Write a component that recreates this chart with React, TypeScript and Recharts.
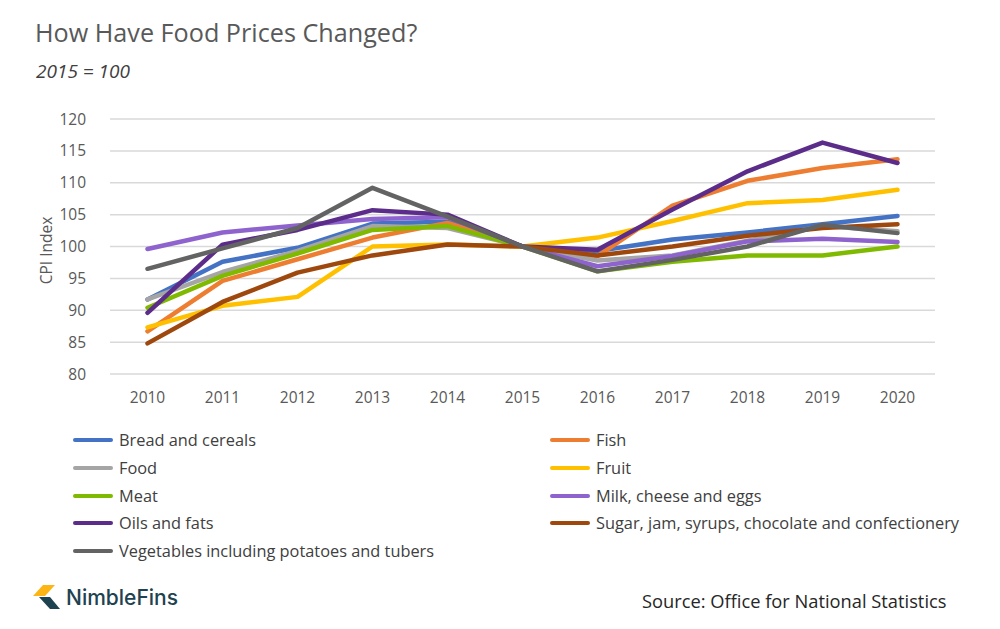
import React from "react";
import { LineChart, Line, CartesianGrid, XAxis, YAxis } from "recharts";

const years = ["2010", "2011", "2012", "2013", "2014", "2015", "2016", "2017", "2018", "2019", "2020"];
const yTicks = [80, 85, 90, 95, 100, 105, 110, 115, 120];

const bread = [91.7, 97.6, 99.8, 103.6, 103.9, 100, 99.3, 101.1, 102.2, 103.5, 104.8];
const fish = [86.7, 94.6, 98, 101.4, 103.7, 100, 98.5, 106.4, 110.3, 112.3, 113.7];
const food = [91.7, 96, 99.3, 103.2, 102.9, 100, 97.8, 98.6, 100.9, 103.2, 102.4];
const fruit = [87.3, 90.7, 92.1, 100, 100.3, 100, 101.4, 104, 106.8, 107.3, 108.9];
const meat = [90.4, 95.4, 98.9, 102.6, 103.2, 100, 96.1, 97.6, 98.6, 98.6, 100];
const milk = [99.6, 102.2, 103.3, 104.3, 104.6, 100, 96.9, 98.5, 100.8, 101.2, 100.7];
const oils = [89.6, 100.3, 102.6, 105.7, 105, 100, 99.5, 105.8, 111.8, 116.3, 113.1];
const sugar = [84.8, 91.3, 95.9, 98.6, 100.3, 100, 98.6, 100, 101.7, 102.9, 103.5];
const veg = [96.5, 99.7, 102.9, 109.2, 104.7, 100, 96.1, 97.9, 100, 103.4, 102.1];

const series = [
  { key: "bread", name: "Bread and cereals", color: "#4472C4", values: bread },
  { key: "fish", name: "Fish", color: "#ED7D31", values: fish },
  { key: "food", name: "Food", color: "#A5A5A5", values: food },
  { key: "fruit", name: "Fruit", color: "#FFC000", values: fruit },
  { key: "meat", name: "Meat", color: "#7FBA00", values: meat },
  { key: "milk", name: "Milk, cheese and eggs", color: "#8E63CE", values: milk },
  { key: "oils", name: "Oils and fats", color: "#5B2C8A", values: oils },
  { key: "sugar", name: "Sugar, jam, syrups, chocolate and confectionery", color: "#9E480E", values: sugar },
  { key: "veg", name: "Vegetables including potatoes and tubers", color: "#636363", values: veg },
];

const data = years.map((year, i) => {
  const row: Record<string, string | number> = { year };
  series.forEach((s) => {
    row[s.key] = s.values[i];
  });
  return row;
});

const font = "'Open Sans', sans-serif";
const tickStyle = { fontSize: 15.5, fill: "#595959", fontFamily: font };

const App: React.FC = () => {
  return (
    <div style={{ position: "absolute", left: 0, top: 0, width: 1000, height: 629, background: "#fff", fontFamily: font, overflow: "hidden" }}>
      <div style={{ position: "absolute", left: 35, top: 15, fontSize: 25.2, color: "#595959", whiteSpace: "nowrap" }}>
        How Have Food Prices Changed?
      </div>
      <div style={{ position: "absolute", left: 36, top: 58, fontSize: 19, fontStyle: "italic", color: "#404040", whiteSpace: "nowrap" }}>
        2015 = 100
      </div>

      <LineChart width={1000} height={629} data={data} margin={{ top: 119, right: 65, bottom: 215, left: 60 }}>
        <CartesianGrid vertical={false} stroke="#D9D9D9" strokeWidth={1.5} />
        <XAxis
          dataKey="year"
          padding={{ left: 37.5, right: 37.5 }}
          axisLine={false}
          tickLine={false}
          tick={tickStyle}
          tickMargin={12}
          interval={0}
          height={40}
        />
        <YAxis
          domain={[80, 120]}
          ticks={yTicks}
          axisLine={false}
          tickLine={false}
          tick={tickStyle}
          tickMargin={18}
          width={50}
          label={{ value: "CPI Index", angle: -90, position: "insideLeft", offset: -14, dy: 4, style: { ...tickStyle, textAnchor: "middle" } }}
        />
        {series.map((s) => (
          <Line
            key={s.key}
            dataKey={s.key}
            name={s.name}
            stroke={s.color}
            strokeWidth={4.5}
            strokeLinecap="round"
            strokeLinejoin="round"
            dot={false}
            type="linear"
            isAnimationActive={false}
          />
        ))}
      </LineChart>

      {series.map((s, i) => {
        const col = i % 2;
        const row = Math.floor(i / 2);
        return (
          <div
            key={s.key}
            style={{ position: "absolute", left: col === 0 ? 73 : 550, top: 427 + row * 27.8, height: 26, display: "flex", alignItems: "center", whiteSpace: "nowrap", fontSize: 16.35, color: "#404040" }}
          >
            <span style={{ display: "inline-block", width: 40, height: 4, borderRadius: 2, background: s.color, marginRight: 6 }} />
            {s.name}
          </div>
        );
      })}

      <svg width={70} height={40} style={{ position: "absolute", left: 0, top: 580 }}>
        <polygon points="33,16 43,5 55,5 45,16" fill="#FDB515" />
        <polygon points="39,17 50,17 60,29 50,29" fill="#1D4250" />
      </svg>
      <div style={{ position: "absolute", left: 66, top: 585, fontSize: 21, fontWeight: 500, fontFamily: "Inter, sans-serif", color: "#1D4250", whiteSpace: "nowrap" }}>
        NimbleFins
      </div>
      <div style={{ position: "absolute", left: 642, top: 588, fontSize: 18.3, color: "#262626", whiteSpace: "nowrap" }}>
        Source: Office for National Statistics
      </div>
    </div>
  );
};

export default App;
